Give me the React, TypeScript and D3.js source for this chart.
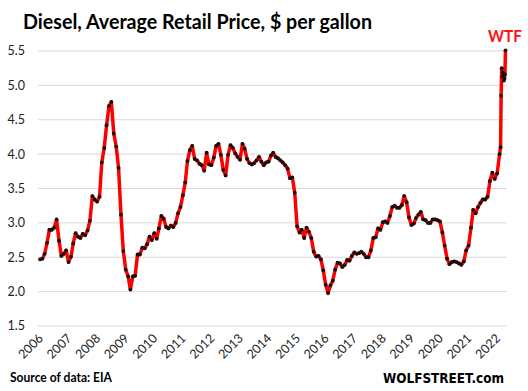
import React from "react";
import * as d3 from "d3";

// monthly average retail diesel price, Jan 2006 .. Feb 2022
const monthlyPrices = [
  2.47, 2.48, 2.55, 2.71, 2.9, 2.9, 2.93, 3.05, 2.74, 2.52, 2.55, 2.6,
  2.43, 2.51, 2.7, 2.85, 2.8, 2.78, 2.84, 2.82, 2.89, 3.03, 3.39, 3.34,
  3.31, 3.38, 3.88, 4.09, 4.42, 4.7, 4.76, 4.3, 4.11, 3.8, 3.12, 2.59,
  2.32, 2.22, 2.03, 2.22, 2.23, 2.54, 2.54, 2.64, 2.63, 2.69, 2.8, 2.75,
  2.85, 2.77, 2.92, 3.1, 3.06, 2.94, 2.92, 2.96, 2.94, 3.0, 3.14, 3.23,
  3.4, 3.59, 3.9, 4.06, 4.12, 3.93, 3.91, 3.86, 3.84, 3.76, 4.02, 3.85,
  3.84, 3.95, 4.12, 4.15, 3.99, 3.77, 3.69, 3.99, 4.13, 4.09, 4.01, 3.96,
  3.92, 4.15, 4.08, 3.93, 3.87, 3.85, 3.87, 3.91, 3.96, 3.89, 3.84, 3.88,
  3.89, 3.98, 4.02, 3.96, 3.94, 3.91, 3.88, 3.84, 3.79, 3.65, 3.66, 3.44,
  2.95, 2.86, 2.9, 2.78, 2.93, 2.87, 2.78, 2.58, 2.51, 2.52, 2.47, 2.31,
  2.1, 1.98, 2.09, 2.16, 2.32, 2.42, 2.41, 2.36, 2.39, 2.46, 2.45, 2.52,
  2.57, 2.55, 2.56, 2.58, 2.55, 2.5, 2.5, 2.6, 2.78, 2.79, 2.92, 2.9,
  3.01, 3.02, 3.0, 3.1, 3.23, 3.25, 3.22, 3.22, 3.26, 3.39, 3.3, 3.08,
  2.97, 2.99, 3.07, 3.12, 3.16, 3.05, 3.04, 3.0, 3.0, 3.05, 3.05, 3.04,
  3.02, 2.86, 2.67, 2.48, 2.4, 2.43, 2.44, 2.43, 2.41, 2.39, 2.44, 2.6,
  2.67, 2.93, 3.19, 3.14, 3.23, 3.29, 3.34, 3.34, 3.38, 3.61, 3.73, 3.64,
  3.72, 4.0,
];

// weekly prices for the spike in 2022
const weekDates = [
  "2022-02-28", "2022-03-07", "2022-03-14", "2022-03-21", "2022-03-28",
  "2022-04-04", "2022-04-11", "2022-04-18", "2022-04-25", "2022-05-02",
];
const weekPrices = [4.1, 4.85, 5.25, 5.13, 5.19, 5.14, 5.07, 5.1, 5.16, 5.51];

const years = d3.range(2006, 2023);
const yTicks = [1.5, 2.0, 2.5, 3.0, 3.5, 4.0, 4.5, 5.0, 5.5];

const parse = d3.timeParse("%Y-%m-%d");

const series = [
  ...monthlyPrices.map((v, i) => ({ date: new Date(2006, i, 15), value: v })),
  ...weekDates.map((d, i) => ({ date: parse(d) as Date, value: weekPrices[i] })),
];

const font = "Lato, 'Open Sans', sans-serif";

export default function App() {
  const x = d3
    .scaleTime()
    .domain([new Date(2006, 0, 2), new Date(2022, 4, 2)])
    .range([39, 505.5]);
  const y = d3.scaleLinear().domain([1.5, 5.5]).range([326, 51]);

  const line = d3
    .line<{ date: Date; value: number }>()
    .x((d) => x(d.date))
    .y((d) => y(d.value));

  return (
    <svg
      width={528}
      height={391}
      style={{ position: "absolute", left: 0, top: 0, background: "#fff" }}
    >
      {/* title */}
      <text
        x={23}
        y={29}
        fontFamily={font}
        fontWeight="bold"
        fontSize={20}
        textLength={349}
        lengthAdjust="spacingAndGlyphs"
        fill="#000"
      >
        Diesel, Average Retail Price, $ per gallon
      </text>

      {/* gridlines + y labels */}
      {yTicks.map((t) => (
        <g key={t}>
          <line x1={38} x2={507} y1={y(t)} y2={y(t)} stroke="#d9d9d9" strokeWidth={1} />
          <text
            x={25}
            y={y(t)}
            dy="0.35em"
            textAnchor="end"
            fontFamily={font}
            fontSize={12.5}
            fill="#222"
          >
            {t.toFixed(1)}
          </text>
        </g>
      ))}

      {/* x labels */}
      {years.map((yr) => (
        <text
          key={yr}
          transform={`translate(${x(new Date(yr, 0, 1)) + 5},339) rotate(-45)`}
          textAnchor="end"
          fontFamily={font}
          fontSize={12.5}
          fill="#222"
        >
          {yr}
        </text>
      ))}

      {/* series */}
      <path d={line(series) ?? ""} fill="none" stroke="#ff0000" strokeWidth={3.5} strokeLinejoin="round" />
      {series.map((d, i) => (
        <circle key={i} cx={x(d.date)} cy={y(d.value)} r={1.9} fill="#111" />
      ))}

      <text
        x={488}
        y={42}
        fontFamily={font}
        fontWeight="bold"
        fontSize={17}
        textLength={34}
        lengthAdjust="spacingAndGlyphs"
        fill="#ff1010"
      >
        WTF
      </text>

      <text
        x={10}
        y={382}
        fontFamily={font}
        fontWeight="bold"
        fontSize={13.5}
        textLength={102}
        lengthAdjust="spacingAndGlyphs"
        fill="#000"
      >
        Source of data: EIA
      </text>
      <text
        x={383}
        y={383}
        fontFamily="'DejaVu Sans', Verdana, sans-serif"
        fontWeight="bold"
        fontSize={14}
        textLength={121}
        lengthAdjust="spacingAndGlyphs"
        fill="#000"
      >
        WOLFSTREET.com
      </text>
    </svg>
  );
}
